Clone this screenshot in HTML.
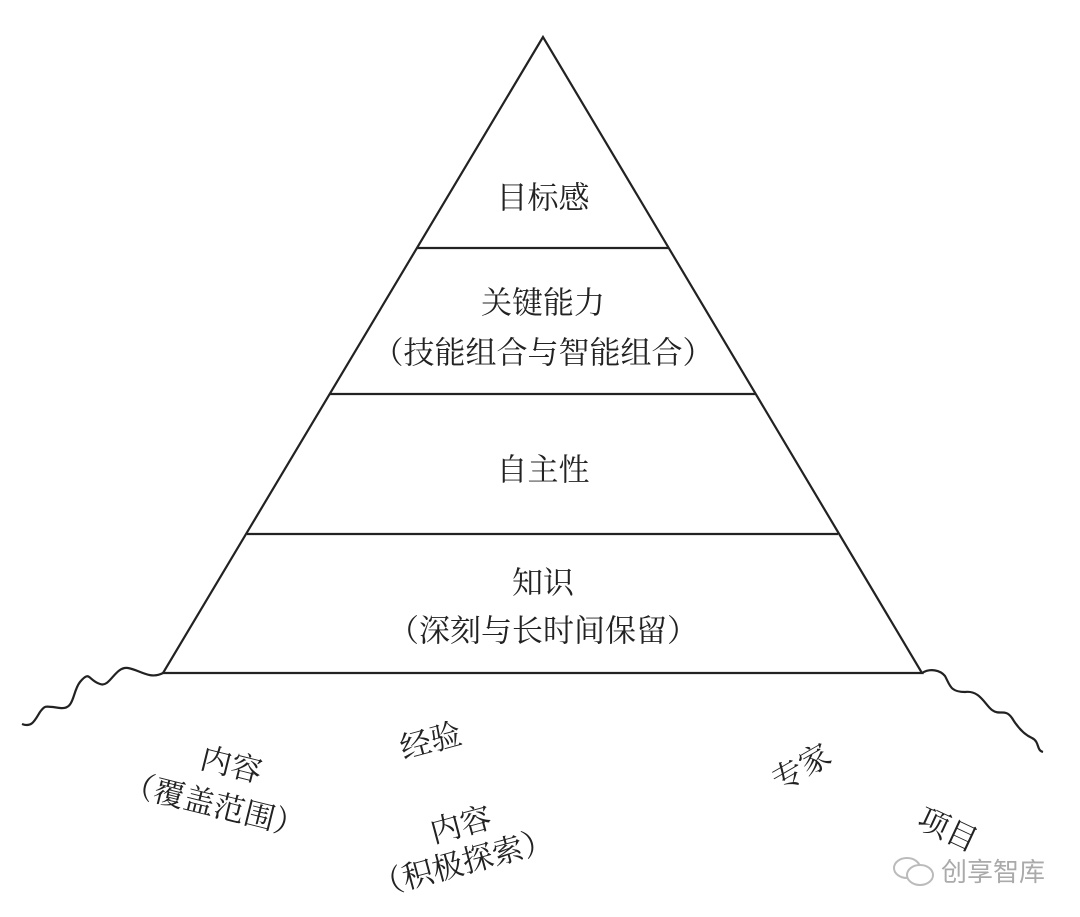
<!DOCTYPE html>
<html><head><meta charset="utf-8"><style>
html,body{margin:0;padding:0;background:#fff;}
body{width:1080px;height:917px;position:relative;overflow:hidden;font-family:"Noto Serif CJK SC","Liberation Serif",serif;color:#222;}
.t{position:absolute;white-space:nowrap;font-size:31px;line-height:1;transform-origin:center;}
</style></head><body>
<svg width="1080" height="917" style="position:absolute;left:0;top:0">
<g stroke="#222" stroke-width="2.2" fill="none">
<polygon points="543,37 163,673 922,673"/>
<line x1="417" y1="248" x2="668" y2="248"/>
<line x1="330" y1="394" x2="755" y2="394"/>
<line x1="247" y1="534" x2="838" y2="534"/>
<path d="M163,673 C150,680 140,670 128,668 C115,666 110,688 100,684 C88,680 90,670 80,682 C72,692 75,710 60,708 C45,706 45,705 40,712 C35,720 32,728 22,724"/>
<path d="M922,673 C930,668 940,670 945,676 C950,685 950,692 965,692 C980,690 985,705 992,710 C1000,716 1005,708 1012,718 C1018,728 1025,735 1032,738 C1040,742 1036,750 1043,752"/>
</g>
</svg>
<div class="t" style="left:543px;top:195px;transform:translate(-50%,-50%)">目标感</div>
<div class="t" style="left:543px;top:300px;transform:translate(-50%,-50%)">关键能力</div>
<div class="t" style="left:543px;top:350px;transform:translate(-50%,-50%)">（技能组合与智能组合）</div>
<div class="t" style="left:543px;top:467px;transform:translate(-50%,-50%)">自主性</div>
<div class="t" style="left:543px;top:580px;transform:translate(-50%,-50%)">知识</div>
<div class="t" style="left:543px;top:628px;transform:translate(-50%,-50%)">（深刻与长时间保留）</div>
<div class="t" style="left:430px;top:738px;transform:translate(-50%,-50%) rotate(-15deg)">经验</div>
<div class="t" style="left:232px;top:762px;transform:translate(-50%,-50%) rotate(14deg)">内容</div>
<div class="t" style="left:215px;top:802px;transform:translate(-50%,-50%) rotate(14deg)">（覆盖范围）</div>
<div class="t" style="left:460px;top:822px;transform:translate(-50%,-50%) rotate(-15deg)">内容</div>
<div class="t" style="left:462px;top:860px;transform:translate(-50%,-50%) rotate(-15deg)">（积极探索）</div>
<div class="t" style="left:800px;top:765px;transform:translate(-50%,-50%) rotate(-30deg)">专家</div>
<div class="t" style="left:949px;top:827px;transform:translate(-50%,-50%) rotate(25deg)">项目</div>
<div class="t" style="left:993px;top:871px;transform:translate(-50%,-50%);color:#aaa;font-size:26px;font-family:'Noto Sans CJK SC','Liberation Sans',sans-serif">创享智库</div>
<svg width="50" height="40" style="position:absolute;left:890px;top:853px" fill="none" stroke="#bbb" stroke-width="2"><ellipse cx="17" cy="15" rx="13" ry="10"/><ellipse cx="30" cy="22" rx="13" ry="10" fill="#fff"/></svg>
</body></html>
